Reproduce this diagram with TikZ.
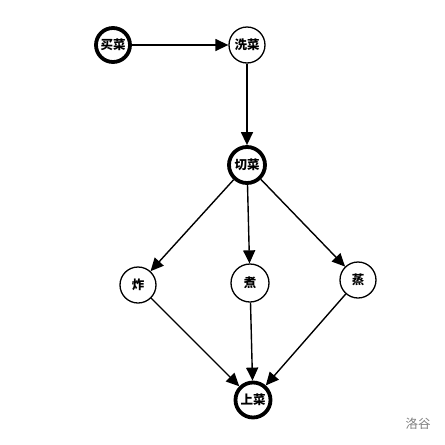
\documentclass[tikz,border=0pt]{standalone}
\usepackage{fontspec}
\newfontfamily\cjk{Noto Sans CJK SC}[BoldFont={Noto Sans CJK SC Black}]
\usetikzlibrary{arrows.meta}
\begin{document}
\begin{tikzpicture}[x=1pt,y=-1pt,
  vtx/.style={circle,draw,line width=1.3pt,minimum size=36pt,inner sep=0pt,font=\cjk\bfseries\fontsize{12.5}{12.5}\selectfont},
  vthick/.style={vtx,line width=3.8pt,minimum size=34pt},
  edge/.style={line width=1.4pt,-{Triangle[length=13pt,width=12pt]}}]
\useasboundingbox (0,0) rectangle (445,445);
\node[vthick] (buy) at (113,45) {买菜};
\node[vtx] (wash) at (247,45) {洗菜};
\node[vthick,minimum size=36pt] (cut) at (247,165) {切菜};
\node[vtx] (fry) at (138,285) {炸};
\node[vtx,minimum size=38pt] (boil) at (250,283) {煮};
\node[vtx] (steam) at (358,280) {蒸};
\node[vthick,minimum size=35pt] (serve) at (253,400) {上菜};
\node[font=\cjk\fontsize{12.5}{12.5}\selectfont,text=gray] (wm) at (418,424) {洛谷};
\draw[edge] (buy) -- (wash);
\draw[edge] (wash) -- (cut);
\draw[edge] (cut) -- (fry);
\draw[edge] (cut) -- (boil);
\draw[edge] (cut) -- (steam);
\draw[edge] (fry) -- (serve);
\draw[edge] (boil) -- (serve);
\draw[edge] (steam) -- (serve);
\end{tikzpicture}
\end{document}
